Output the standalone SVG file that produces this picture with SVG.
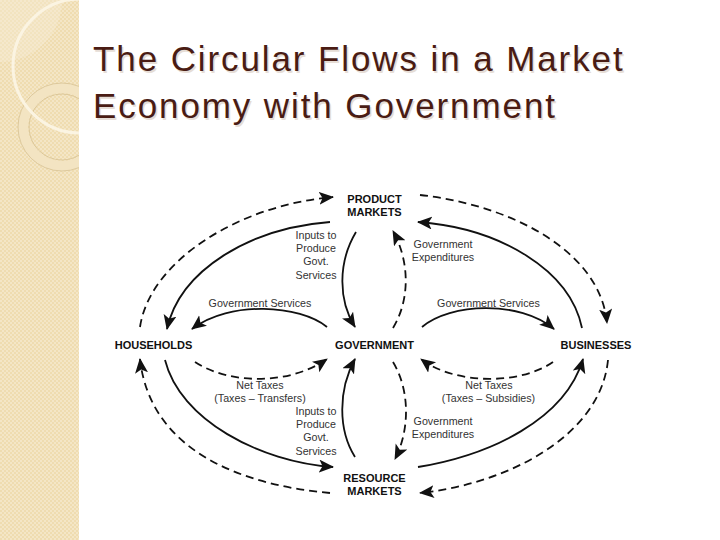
<svg xmlns="http://www.w3.org/2000/svg" width="720" height="540" viewBox="0 0 720 540">
<defs>
<pattern id="tex" width="4" height="4" patternUnits="userSpaceOnUse">
<rect width="4" height="4" fill="#efdcb0"/>
<rect width="2" height="2" fill="#f4e6c6"/>
<rect x="2" y="2" width="2" height="2" fill="#f4e6c6"/>
</pattern>
<marker id="ah" markerUnits="userSpaceOnUse" markerWidth="16" markerHeight="14" refX="14" refY="6.5" orient="auto">
<path d="M0,0 L15,6.5 L0,13 L3.5,6.5 z" fill="#111"/>
</marker>
<clipPath id="strip"><rect x="0" y="0" width="79" height="540"/></clipPath>
</defs>
<style>
.t{font-family:"Liberation Sans",Arial,sans-serif;font-size:35px;fill:#4a1c14;letter-spacing:1.9px}
.ts{font-family:"Liberation Sans",Arial,sans-serif;font-size:35px;fill:#e6ddd6;letter-spacing:1.9px}
.n{font-family:"Liberation Sans",Arial,sans-serif;font-size:11px;font-weight:bold;fill:#111;text-anchor:middle}
.l{font-family:"Liberation Sans",Arial,sans-serif;font-size:10.7px;fill:#333;text-anchor:middle}
.s{fill:none;stroke:#111;stroke-width:1.8;marker-end:url(#ah)}
.d{fill:none;stroke:#111;stroke-width:1.8;stroke-dasharray:8 5;marker-end:url(#ah)}
</style>
<rect width="720" height="540" fill="#fff"/>
<g id="strip-deco" clip-path="url(#strip)">
<rect x="0" y="0" width="79" height="540" fill="url(#tex)"/>
<circle cx="0" cy="0" r="62" fill="#f6ebd2" opacity="0.45"/>
<circle cx="62" cy="127" r="39" fill="none" stroke="#f3e4c2" stroke-width="10"/>
<circle cx="62" cy="127" r="44" fill="none" stroke="#d7c193" stroke-width="0.8"/>
<circle cx="62" cy="127" r="33" fill="none" stroke="#d7c193" stroke-width="0.8"/>
<circle cx="80" cy="66" r="67" fill="none" stroke="#fbf4e2" stroke-width="3"/>
</g>
<g id="title">
<text class="ts" x="94.5" y="72.5">The Circular Flows in a Market</text>
<text class="ts" x="94.5" y="119.5">Economy with Government</text>
<text class="t" x="93" y="71">The Circular Flows in a Market</text>
<text class="t" x="93" y="118">Economy with Government</text>
</g>
<g id="connectors">
<path class="d" d="M140,327 C150,260 240,205 333,197"/>
<path class="s" d="M330,222 C250,228 180,270 167,329"/>
<path class="s" d="M356,232 C338,262 338,300 355,327"/>
<path class="d" d="M393,328 C410,300 410,262 393,231"/>
<path class="s" d="M327,327 C300,305 230,300 192,329"/>
<path class="s" d="M422,327 C450,303 520,300 554,329"/>
<path class="s" d="M582,328 C570,270 500,228 418,222"/>
<path class="d" d="M420,195 C510,205 600,250 607,323"/>
<path class="d" d="M195,362 C230,385 290,385 327,359"/>
<path class="s" d="M165,360 C180,420 260,462 333,467"/>
<path class="d" d="M330,493 C240,485 150,450 140,359"/>
<path class="s" d="M355,457 C338,430 338,390 355,359"/>
<path class="d" d="M393,362 C410,390 410,430 395,459"/>
<path class="d" d="M553,362 C520,385 455,385 421,359"/>
<path class="s" d="M418,467 C490,455 565,420 583,359"/>
<path class="d" d="M608,360 C600,440 500,485 420,493"/>
</g>
<g id="product-markets"><text class="n" x="374.5" y="203">PRODUCT</text><text class="n" x="374.5" y="216">MARKETS</text></g>
<g id="households"><text class="n" x="153.5" y="349">HOUSEHOLDS</text></g>
<g id="government"><text class="n" x="374.5" y="349">GOVERNMENT</text></g>
<g id="businesses"><text class="n" x="596" y="349">BUSINESSES</text></g>
<g id="resource-markets"><text class="n" x="374.5" y="482">RESOURCE</text><text class="n" x="374.5" y="495">MARKETS</text></g>
<g id="labels">
<text class="l" x="316" y="239">Inputs to</text>
<text class="l" x="316" y="252">Produce</text>
<text class="l" x="316" y="265">Govt.</text>
<text class="l" x="316" y="279">Services</text>
<text class="l" x="443" y="248">Government</text>
<text class="l" x="443" y="261">Expenditures</text>
<text class="l" x="260" y="307">Government Services</text>
<text class="l" x="488.5" y="307">Government Services</text>
<text class="l" x="260" y="389">Net Taxes</text>
<text class="l" x="260" y="402">(Taxes – Transfers)</text>
<text class="l" x="489" y="389">Net Taxes</text>
<text class="l" x="488.5" y="402">(Taxes – Subsidies)</text>
<text class="l" x="316" y="415">Inputs to</text>
<text class="l" x="316" y="428">Produce</text>
<text class="l" x="316" y="441">Govt.</text>
<text class="l" x="316" y="455">Services</text>
<text class="l" x="443" y="425">Government</text>
<text class="l" x="443" y="438">Expenditures</text>
</g>
</svg>
